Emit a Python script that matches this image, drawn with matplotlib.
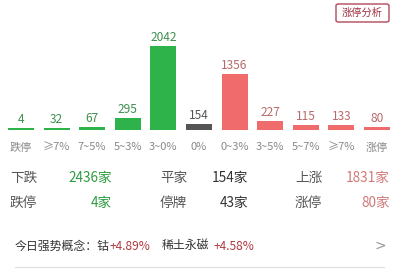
import numpy as np
import matplotlib.pyplot as plt
from matplotlib.patches import FancyBboxPatch

plt.rcParams['font.family'] = ['Noto Sans CJK SC', 'DejaVu Sans']

categories = ['跌停', '≥7%', '7~5%', '5~3%', '3~0%', '0%', '0~3%', '3~5%', '5~7%', '≥7%', '涨停']
counts = [4, 32, 67, 295, 2042, 154, 1356, 227, 115, 133, 80]
bar_colors = ['#2db34a'] * 5 + ['#555555'] + ['#f06b6b'] * 5
label_colors = ['#3c8f4e'] * 5 + ['#555555'] + ['#b86a6a'] * 5

summary_labels = [['下跌', '平家', '上涨'], ['跌停', '停牌', '涨停']]
summary_values = [['2436家', '154家', '1831家'], ['4家', '43家', '80家']]
summary_colors = ['#2e9a40', '#333333', '#d07a7a']

concepts = [('钴', '+4.89%'), ('稀土永磁', '+4.58%')]

W, H = 400, 269
fig = plt.figure(figsize=(W / 100, H / 100), dpi=100)
fig.patch.set_facecolor('white')

def fx(px):
    return px / W

def fy(py):
    return 1 - py / H

# bar chart area: baseline at y=130 px, 2042 -> 84 px tall
ax = fig.add_axes([fx(3.2), fy(130), fx(391.6), (130 - 20) / H])
x = np.arange(len(counts))
vals = np.array(counts, dtype=float)
ymax = max(counts) * 110 / 84
shown = np.maximum(vals, ymax * 1.6 / 110)
ax.bar(x, shown, width=0.73, color=bar_colors)
for xi, v, h, c in zip(x, counts, shown, label_colors):
    ax.text(xi, h + ymax * 2 / 110, str(v), ha='center', va='bottom',
            fontsize=8.6, color=c, fontweight='light')
ax.set_xlim(-0.5, len(counts) - 0.5)
ax.set_ylim(0, ymax)
ax.set_xticks(x)
ax.set_xticklabels(categories, fontsize=8, color='#888888', fontweight='light')
ax.tick_params(axis='x', length=0, pad=9)
ax.set_yticks([])
for s in ax.spines.values():
    s.set_visible(False)
ax.patch.set_alpha(0)

# top-right button
box = FancyBboxPatch((fx(336), fy(22)), fx(53), (22 - 4) / H,
                     boxstyle='round,pad=0,rounding_size=0.006',
                     transform=fig.transFigure, fill=False,
                     edgecolor='#b04a5a', linewidth=1.0)
fig.patches.append(box)
fig.text(fx(362.5), fy(12.5), '涨停分析', ha='center', va='center',
         fontsize=7.4, color='#a03040')

# summary rows
label_x = [10, 160, 295]
value_x = [112, 248, 390]
row_y = [178, 203]
for r in range(2):
    for c in range(3):
        fig.text(fx(label_x[c]), fy(row_y[r]), summary_labels[r][c],
                 ha='left', va='center', fontsize=9.8, color='#555555',
                 fontweight='light')
        fig.text(fx(value_x[c]), fy(row_y[r]), summary_values[r][c],
                 ha='right', va='center', fontsize=9.8, color=summary_colors[c],
                 fontweight='light')

# strong concepts line
fs = 8.6
t = fig.text(fx(15), fy(246), '今日强势概念：' + concepts[0][0], ha='left',
             va='center', fontsize=fs, color='#333333', fontweight='light')
fig.canvas.draw()
r = fig.canvas.get_renderer()
xpos = t.get_window_extent(r).x1
t2 = fig.text(xpos / W, fy(246), concepts[0][1], ha='left', va='center',
              fontsize=fs, color='#b03a40', fontweight='light')
xpos = t2.get_window_extent(r).x1 + 11
t3 = fig.text(xpos / W, fy(246), concepts[1][0], ha='left', va='center',
              fontsize=fs, color='#333333', fontweight='light')
xpos = t3.get_window_extent(r).x1 + 4
fig.text(xpos / W, fy(246), concepts[1][1], ha='left', va='center',
         fontsize=fs, color='#b03a40', fontweight='light')
fig.text(fx(380), fy(246), '>', ha='center', va='center', fontsize=10,
         color='#999999', family='DejaVu Sans')
fig.add_artist(plt.Line2D([fx(15), fx(384)], [fy(267), fy(267)],
                          transform=fig.transFigure, color='#dddddd', lw=0.8))

fig.savefig('out.png', dpi=100, facecolor='white')
